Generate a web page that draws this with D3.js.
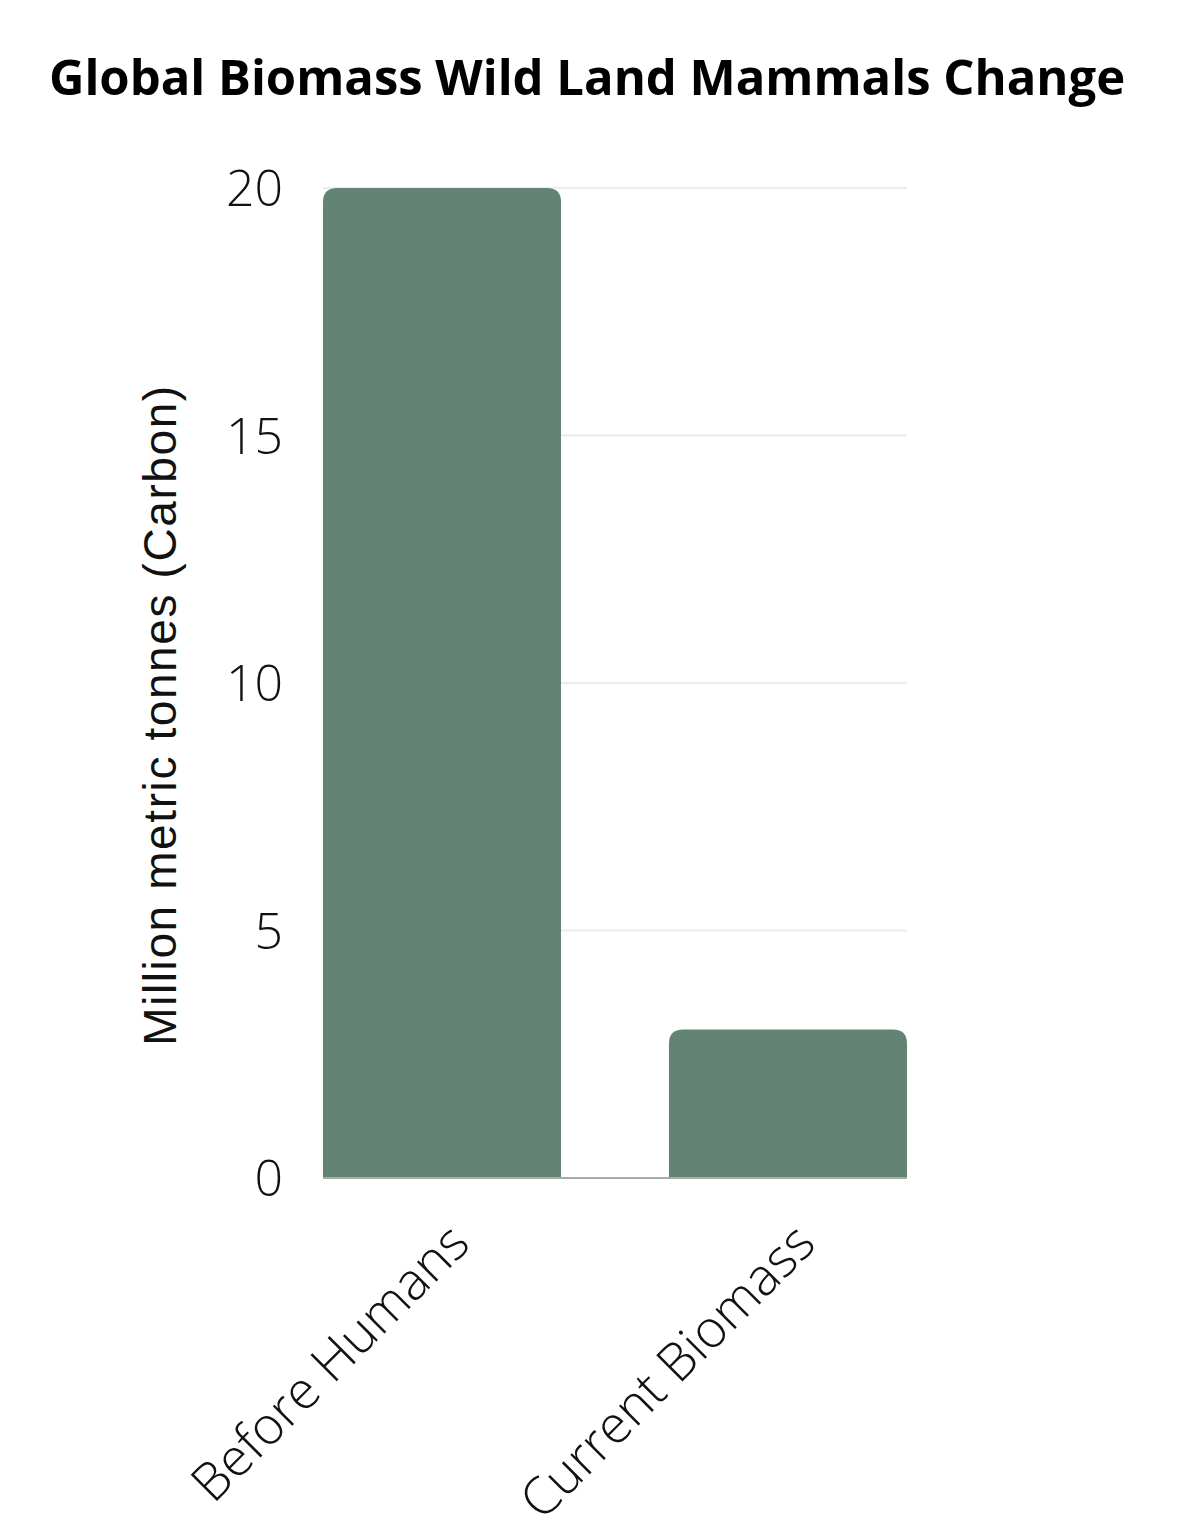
<!DOCTYPE html>
<html><head><meta charset="utf-8">
<script src="https://cdn.jsdelivr.net/npm/d3@7"></script>
<style>body{margin:0;background:#fff;} svg{display:block;}</style>
</head><body>
<svg id="c" width="1180" height="1536"></svg>
<script>
const categories = ["Before Humans", "Current Biomass"];
const values = [20, 3];
const yTicks = [0, 5, 10, 15, 20];
const title = "Global Biomass Wild Land Mammals Change";
const yLabel = "Million metric tonnes (Carbon)";

const svg = d3.select("#c");
const m = {left: 323, right: 907, top: 188, bottom: 1178};
const x = d3.scaleBand().domain(categories).range([m.left, m.right]).paddingInner(0.312).paddingOuter(0);
const y = d3.scaleLinear().domain([0, 20]).range([m.bottom, m.top]);

svg.append("text").attr("x", 587).attr("y", 95).attr("text-anchor", "middle")
  .attr("font-family", "Open Sans").attr("font-weight", 700).attr("font-size", 49)
  .attr("fill", "#000").text(title);

// grid
svg.append("g").selectAll("line").data(yTicks.filter(d => d > 0)).join("line")
  .attr("x1", m.left).attr("x2", m.right).attr("y1", d => y(d)).attr("y2", d => y(d))
  .attr("stroke", "#ececec").attr("stroke-width", 2);

// bars with rounded top
const r = 14;
svg.append("g").selectAll("path").data(categories).join("path")
  .attr("fill", "#638474")
  .attr("d", (d, i) => {
    const x0 = x(d), w = x.bandwidth(), y0 = y(values[i]), yb = y(0);
    return `M${x0},${yb}V${y0 + r}Q${x0},${y0} ${x0 + r},${y0}H${x0 + w - r}Q${x0 + w},${y0} ${x0 + w},${y0 + r}V${yb}Z`;
  });

// baseline
svg.append("line").attr("x1", m.left).attr("x2", m.right).attr("y1", y(0)).attr("y2", y(0))
  .attr("stroke", "#aaaaaa").attr("stroke-width", 2);

// y tick labels
svg.append("g").selectAll("text").data(yTicks).join("text")
  .attr("x", 283).attr("y", d => y(d)).attr("dy", "0.36em").attr("text-anchor", "end")
  .attr("font-family", "Open Sans").attr("font-weight", 300).attr("font-size", 50)
  .attr("fill", "#111").text(d => d);

// y label
svg.append("text").attr("transform", `translate(176,${(385 + 1045) / 2}) rotate(-90)`)
  .attr("text-anchor", "middle")
  .attr("font-family", "Liberation Sans").attr("font-size", 46).attr("letter-spacing", 1.6)
  .attr("fill", "#111").text(yLabel);

// x labels
svg.append("g").selectAll("text").data(categories).join("text")
  .attr("transform", d => `translate(${x(d) + x.bandwidth() / 2 + 30},${1246}) rotate(-45)`)
  .attr("text-anchor", "end")
  .attr("font-family", "Open Sans").attr("font-weight", 300).attr("font-size", 52).attr("fill", "#111").text(d => d);
</script>
</body></html>
